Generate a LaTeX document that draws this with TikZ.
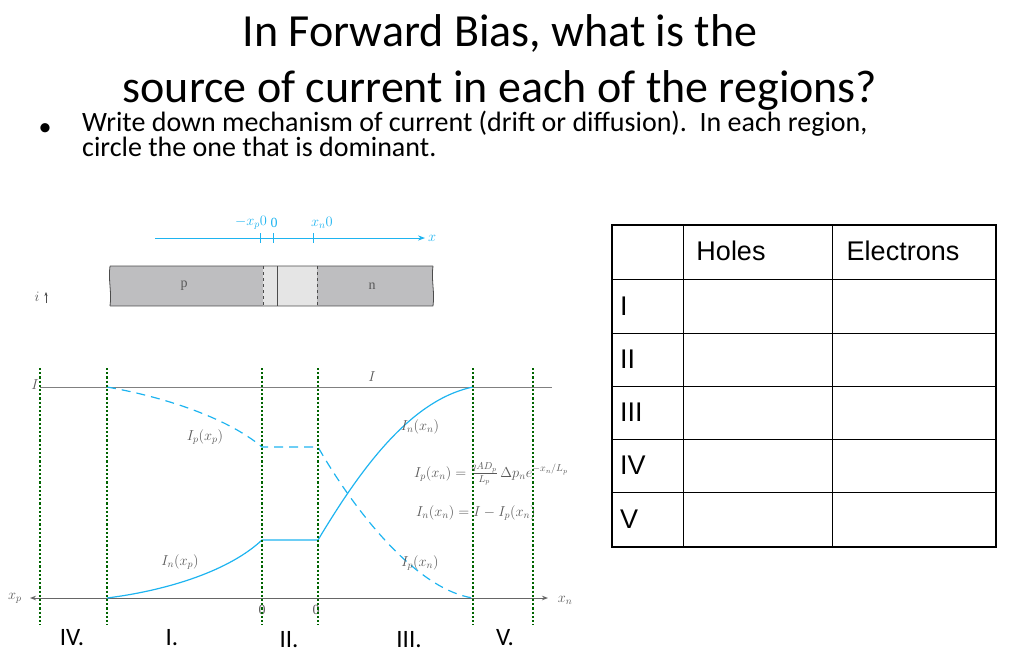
\documentclass[tikz,border=0pt]{standalone}
\usepackage{fontspec}
\setmainfont{Carlito}
\newfontfamily\arialf{Liberation Sans}
\newfontfamily\serf{Liberation Serif}
\usetikzlibrary{arrows.meta}
\definecolor{cy}{RGB}{30,180,240}
\definecolor{gr}{RGB}{0,100,0}
\definecolor{barg}{RGB}{190,190,192}
\tikzset{
 green/.style={gr,line width=2.2pt,dotted},
 cyl/.style={cy,line width=1.2pt},
 cyd/.style={cy,line width=1.2pt,dash pattern=on 9pt off 6pt},
 lab/.style={text=gray!70!black,font=\serf\fontsize{14}{16}\selectfont\itshape,inner sep=0pt},
 reg/.style={font=\fontsize{25}{28}\selectfont,inner sep=0pt},
 cell/.style={font=\arialf\fontsize{27}{30}\selectfont,inner sep=0pt}
}
\begin{document}
\begin{tikzpicture}[x=1pt,y=-1pt]
\useasboundingbox (0,0) rectangle (1024,670);
\node (t1) at (500,33) {\fontsize{46}{50}\selectfont In Forward Bias, what is the};
\node (t2) at (500,90) {\fontsize{46}{50}\selectfont source of current in each of the regions?};
\node (b) at (45,130) {\fontsize{26}{28}\selectfont •};
\node[anchor=north west,align=left,inner sep=0pt] (bt) at (82,111) {\fontsize{28}{26}\selectfont Write down mechanism of current (drift or diffusion).\ \ In each region,\\ \fontsize{28}{26}\selectfont circle the one that is dominant.};
% top axis
\coordinate (xa) at (155,238); \coordinate (xb) at (425,238);
\draw[cy,line width=1pt,-{Stealth[length=7pt]}] (xa) -- (xb);
\node[lab,text=cy] (xl) at (432,238) {$x$};
\foreach \t in {260,273,313} \draw[cy] (\t,233) -- (\t,243);
\node[lab,text=cy] (l1) at (251,223) {$-x_p0$};
\node[lab,text=cy,font=\serf\fontsize{14}{16}\selectfont] (l2) at (274,223) {0};
\node[lab,text=cy] (l3) at (322,223) {$x_n0$};
% bar
\fill[barg] (110,266) rectangle (433,306);
\fill[gray!20] (263,266) rectangle (317,306);
\draw[gray!60!black,line width=0.8pt] (110,266) -- (433,266) (110,306) -- (433,306)
  (110,266) .. controls (108,280) and (112,292) .. (110,306)
  (433,266) .. controls (431,280) and (435,292) .. (433,306);
\draw[gray!60!black,dashed] (263,266) -- (263,306) (317,266) -- (317,306);
\draw[gray!60!black] (277,266) -- (277,306);
\node[lab,font=\serf\fontsize{14}{16}\selectfont] (p) at (184,286) {p};
\node[lab,font=\serf\fontsize{14}{16}\selectfont] (n) at (372,286) {n};
\node[lab] (i) at (37,297) {$i$};
\draw[-{Stealth[length=4pt]},gray!60!black] (46,303) -- (46,292);
% graph axes
\draw[gray,line width=1pt] (40,387) -- (552,387);
\node[lab] (I1) at (35,385) {$I$};
\node[lab] (I2) at (372,377) {$I$};
\draw[gray!80!black,line width=1pt,{Stealth[length=6pt]}-{Stealth[length=6pt]}] (30,598) -- (548,598);
\node[lab] (xp) at (15,598) {$x_p$};
\node[lab] (xn) at (565,600) {$x_n$};
\node[lab,font=\serf\fontsize{14}{16}\selectfont] (z1) at (262,610) {0};
\node[lab,font=\serf\fontsize{14}{16}\selectfont] (z2) at (316,610) {0};
% curves
\draw[cyd] (107,387) .. controls (170,398) and (230,420) .. (262,447) -- (318,447)
  .. controls (360,520) and (420,590) .. (473,598);
\draw[cyl] (107,598) .. controls (170,590) and (230,570) .. (262,540) -- (318,540)
  .. controls (360,470) and (410,400) .. (473,387);
\node[lab] (a) at (205,437) {$I_p(x_p)$};
\node[lab] (b2) at (180,562) {$I_n(x_p)$};
\node[lab] (c) at (420,427) {$I_n(x_n)$};
\node[lab] (d) at (420,563) {$I_p(x_n)$};
\node[lab,anchor=west] (e1) at (414,474) {$I_p(x_n)=\frac{qAD_p}{L_p}\,\Delta p_n e^{-x_n/L_p}$};
\node[lab,anchor=west] (e2) at (416,513) {$I_n(x_n)=I-I_p(x_n)$};
% green lines
\foreach \g in {40,107,262,318,473,533} \draw[green] (\g,368) -- (\g,625);
% region labels
\node[reg] (r4) at (72,638) {IV.};
\node[reg] (r1) at (172,638) {I.};
\node[reg] (r2) at (289,640) {II.};
\node[reg] (r3) at (409,640) {III.};
\node[reg] (r5) at (505,638) {V.};
% table
\foreach \y in {279,333,386,439,492} \draw[line width=1pt] (612,\y) -- (996,\y);
\draw[line width=1pt] (683,225) -- (683,547) (832,225) -- (832,547);
\draw[line width=2pt] (612,225) rectangle (996,547);
\node[cell] (h1) at (731,251) {Holes};
\node[cell] (h2) at (903,251) {Electrons};
\node[cell,anchor=west] (c1) at (620,306) {I};
\node[cell,anchor=west] (c2) at (620,359) {II};
\node[cell,anchor=west] (c3) at (620,412) {III};
\node[cell,anchor=west] (c4) at (620,465) {IV};
\node[cell,anchor=west] (c5) at (620,519) {V};
\end{tikzpicture}
\end{document}
